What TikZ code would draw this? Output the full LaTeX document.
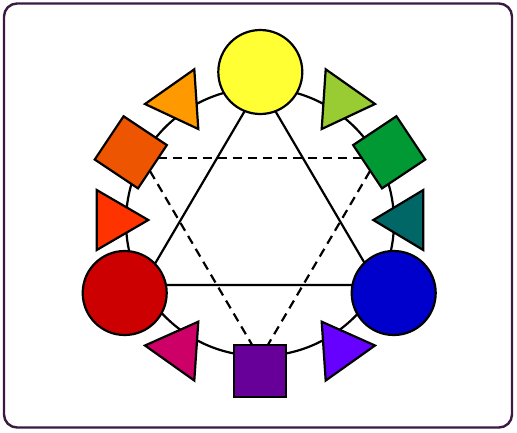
\documentclass[tikz,border=0pt]{standalone}
\usetikzlibrary{shapes.geometric}
\definecolor{frameC}{HTML}{3A1A40}
\definecolor{cYellow}{HTML}{FFFF33}
\definecolor{cRed}{HTML}{CC0000}
\definecolor{cBlue}{HTML}{0000CC}
\definecolor{cOrange}{HTML}{FF9900}
\definecolor{cOrRed}{HTML}{EE5500}
\definecolor{cRedOr}{HTML}{FF3300}
\definecolor{cLime}{HTML}{99CC33}
\definecolor{cGreen}{HTML}{009933}
\definecolor{cTeal}{HTML}{006666}
\definecolor{cViolet}{HTML}{6600FF}
\definecolor{cPurple}{HTML}{660099}
\definecolor{cMagenta}{HTML}{CC0066}
\begin{document}
\begin{tikzpicture}[x=1pt,y=-1pt,
  outl/.style={draw=black,line width=2.2pt,line join=miter},
  bigdot/.style={outl,circle,minimum size=84pt,inner sep=0pt},
  sqbox/.style={outl,rectangle,minimum size=52pt,inner sep=0pt},
  tri/.style={outl},
  solidline/.style={draw=black,line width=2.2pt},
  dashline/.style={draw=black,line width=2.2pt,dash pattern=on 9pt off 6pt}]
\useasboundingbox (0,0) rectangle (517,432);
\fill[white] (0,0) rectangle (517,432);
% frame
\draw[frameC,line width=2.4pt,rounded corners=13pt] (4,3.5) rectangle (512,427.5);
% ring
\coordinate (ringc) at (260,222);
\draw[black,line width=2.2pt] (ringc) circle[radius=134pt];
% triangle vertices
\coordinate (s1) at (260,85);
\coordinate (s2) at (142.5,285);
\coordinate (s3) at (377.5,285);
\coordinate (d1) at (142.5,158.3);
\coordinate (d2) at (377.5,158.3);
\coordinate (d3) at (260,358.3);
\draw[solidline] (s1) -- (s2) -- (s3) -- cycle;
\draw[dashline] (d1) -- (d2);
\draw[dashline] (d1) -- (d3);
\draw[dashline] (d2) -- (d3);
% primary circles
\node[bigdot,fill=cYellow] (yellow) at (260.3,72) {};
\node[bigdot,fill=cRed] (red) at (124.7,293) {};
\node[bigdot,fill=cBlue] (blue) at (393.7,293) {};
% secondary squares
\node[sqbox,fill=cOrRed,rotate=-33.7] (orsq) at (130.8,152.3) {};
\node[sqbox,fill=cGreen,rotate=33.7] (grsq) at (389.2,152.3) {};
\node[sqbox,fill=cPurple] (pusq) at (260.3,370.8) {};
% tertiary triangles
\draw[tri,fill=cOrange] (145,104) -- (194.3,69.3) -- (198.3,129) -- cycle;
\draw[tri,fill=cLime] (375,104) -- (325.7,69.3) -- (321.7,129) -- cycle;
\draw[tri,fill=cRedOr] (148.3,220) -- (96.7,190) -- (96.7,250) -- cycle;
\draw[tri,fill=cTeal] (373.3,220) -- (423.3,190) -- (423.3,250) -- cycle;
\draw[tri,fill=cMagenta] (145,345.5) -- (198.3,321.7) -- (194.3,380.5) -- cycle;
\draw[tri,fill=cViolet] (375,345.5) -- (321.7,321.7) -- (325.7,380.5) -- cycle;
\end{tikzpicture}
\end{document}
